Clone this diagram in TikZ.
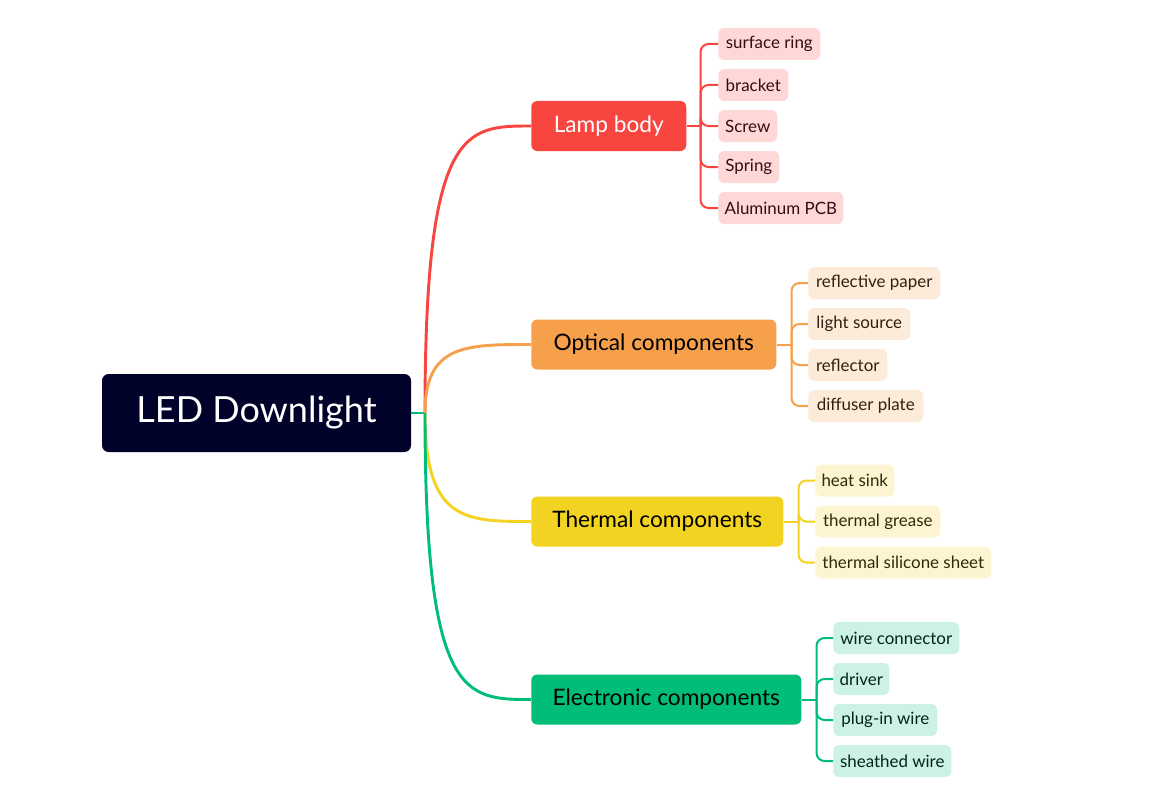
\documentclass[tikz,border=0pt]{standalone}
\usepackage{fontspec}
\setmainfont{Lato}
\usetikzlibrary{calc,positioning}
\definecolor{rootnavy}{HTML}{01022A}
\definecolor{lampred}{HTML}{F8453F}
\definecolor{lamppink}{HTML}{FED8D7}
\definecolor{optorange}{HTML}{F6A04C}
\definecolor{optpeach}{HTML}{FDEBD9}
\definecolor{thermyellow}{HTML}{F2D322}
\definecolor{thermcream}{HTML}{FDF4D2}
\definecolor{elecgreen}{HTML}{00BE78}
\definecolor{elecmint}{HTML}{CCF2E3}
\tikzset{
    rootnode/.style   = {rectangle, fill=rootnavy, text=white, rounded corners=5pt,
                         minimum width=231.75pt, minimum height=58.5pt,
                         font=\fontsize{27}{31}\selectfont},
    branchnode/.style = {rectangle, rounded corners=4.5pt, anchor=west,
                         minimum height=37.5pt, inner sep=0pt,
                         font=\fontsize{17}{20}\selectfont},
    leafnode/.style   = {rectangle, rounded corners=4.5pt, anchor=west,
                         minimum height=24pt, inner sep=0pt,
                         font=\fontsize{12.7}{15}\selectfont},
    mainlink/.style   = {line width=2.2pt},
    leaflink/.style   = {line width=1.5pt, rounded corners=6pt}
}
\begin{document}
\begin{tikzpicture}[x=0.75pt, y=-0.75pt]
\useasboundingbox (0,0) rectangle (1167,792);
% root and hub
\node[rootnode] (root) at (256.5,413) {LED Downlight};
\coordinate (hub) at (425,413);
% branches
\node[branchnode, fill=lampred, text=white, minimum width=116.25pt]
   (lamp) at (531,126) {Lamp body};
\node[branchnode, fill=optorange, minimum width=183.75pt]
   (optic) at (531,344.5) {Optical components};
\node[branchnode, fill=thermyellow, minimum width=189pt]
   (therm) at (531,521.5) {Thermal components};
\node[branchnode, fill=elecgreen, minimum width=202.5pt]
   (elec) at (531,699.5) {Electronic components};
% root to branches
\draw[mainlink, elecgreen] (root.east) -- (hub);
\foreach \b/\c in {lamp/lampred, optic/optorange, therm/thermyellow, elec/elecgreen}
   \draw[mainlink, \c] (hub) .. controls (hub |- \b.west)
        and ($(hub |- \b.west)+(40,0)$) .. (\b.west);
% leaves: lamp body
\coordinate (lamp-fork) at ($(lamp.east)+(14,0)$);
\draw[leaflink, lampred] (lamp.east) -- (lamp-fork);
\foreach \t/\w [count=\i] in {surface ring/102, bracket/70, Screw/59,
                              Spring/61, Aluminum PCB/125}{
   \node[leafnode, fill=lamppink, text=lampred!20!black, minimum width=\w*0.75pt]
      (lamp-\i) at (718,{126+41*(\i-3)}) {\t};
   \draw[leaflink, lampred] (lamp-fork) |- (lamp-\i.west);
}
% leaves: optical
\coordinate (optic-fork) at ($(optic.east)+(15,0)$);
\draw[leaflink, optorange] (optic.east) -- (optic-fork);
\foreach \t/\w [count=\i] in {reflective paper/132, light source/102,
                              reflector/79, diffuser plate/115}{
   \node[leafnode, fill=optpeach, text=optorange!20!black, minimum width=\w*0.75pt]
      (optic-\i) at (808,{344.5+41*(\i-2.5)}) {\t};
   \draw[leaflink, optorange] (optic-fork) |- (optic-\i.west);
}
% leaves: thermal
\coordinate (therm-fork) at ($(therm.east)+(15,0)$);
\draw[leaflink, thermyellow] (therm.east) -- (therm-fork);
\foreach \t/\w [count=\i] in {heat sink/79, thermal grease/125,
                              thermal silicone sheet/176}{
   \node[leafnode, fill=thermcream, text=thermyellow!20!black, minimum width=\w*0.75pt]
      (therm-\i) at (815,{521.5+41*(\i-2)}) {\t};
   \draw[leaflink, thermyellow] (therm-fork) |- (therm-\i.west);
}
% leaves: electronic
\coordinate (elec-fork) at ($(elec.east)+(15,0)$);
\draw[leaflink, elecgreen] (elec.east) -- (elec-fork);
\foreach \t/\w [count=\i] in {wire connector/126, driver/56,
                              plug-in wire/104, sheathed wire/118}{
   \node[leafnode, fill=elecmint, text=elecgreen!20!black, minimum width=\w*0.75pt]
      (elec-\i) at (833,{699.5+41*(\i-2.5)}) {\t};
   \draw[leaflink, elecgreen] (elec-fork) |- (elec-\i.west);
}
\end{tikzpicture}
\end{document}
